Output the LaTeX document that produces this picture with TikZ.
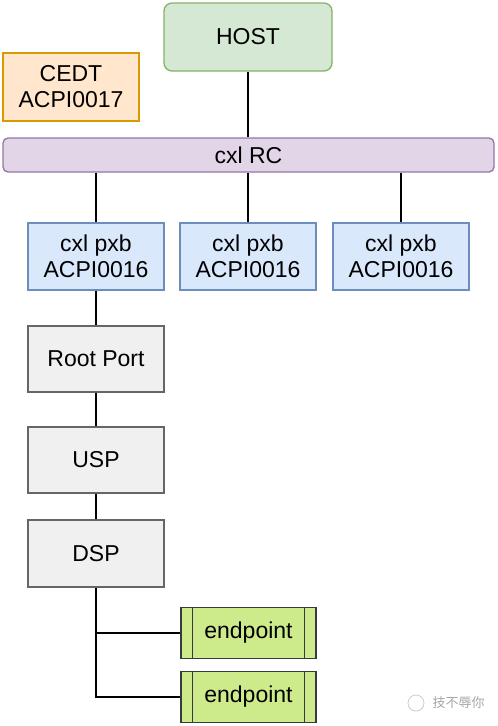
\documentclass[tikz,border=0pt]{standalone}
\usepackage{fontspec}
\setmainfont{Liberation Sans}
\newfontfamily\cjkfont{Noto Sans CJK SC}
\usepackage{tikz}
\usepackage{xcolor}
\usetikzlibrary{calc}
\usetikzlibrary{positioning}

\definecolor{hostfill}{HTML}{D5E8D4}
\definecolor{hostline}{HTML}{82B366}
\definecolor{cedtfill}{HTML}{FFE6CC}
\definecolor{cedtline}{HTML}{D79B00}
\definecolor{rcfill}{HTML}{E1D5E7}
\definecolor{rcline}{HTML}{9673A6}
\definecolor{pxbfill}{HTML}{DAE8FC}
\definecolor{pxbline}{HTML}{6C8EBF}
\definecolor{portfill}{HTML}{F0F0F0}
\definecolor{portline}{HTML}{666666}
\definecolor{epfill}{HTML}{CDEB8B}
\definecolor{epline}{HTML}{36393D}

\tikzset{
  box/.style={draw, line width=1.3pt, align=center, inner sep=0pt,
    font=\fontsize{23}{26}\selectfont},
  hostbox/.style={box, fill=hostfill, draw=hostline, rounded corners=8pt,
    minimum width=168pt, minimum height=68pt},
  cedtbox/.style={box, fill=cedtfill, draw=cedtline,
    minimum width=136pt, minimum height=68pt},
  rcbox/.style={box, fill=rcfill, draw=rcline, rounded corners=5pt,
    minimum width=491pt, minimum height=34pt},
  pxbbox/.style={box, fill=pxbfill, draw=pxbline,
    minimum width=136pt, minimum height=67pt},
  portbox/.style={box, fill=portfill, draw=portline,
    minimum width=136pt, minimum height=66pt},
  epbox/.style={box, fill=epfill, draw=epline,
    minimum width=135pt, minimum height=51pt},
  wire/.style={line width=1.4pt, black}
}

\begin{document}
\begin{tikzpicture}[x=1pt, y=-1pt]
\useasboundingbox (0,0) rectangle (498,726);

%top
\node[hostbox] (host) at (248,37) {HOST};
\node[cedtbox] (cedt) at (71,87) {CEDT\\ACPI0017};
\node[rcbox] (rc) at (248.5,155) {cxl RC};
\draw[wire] (host.south) -- (host.south |- rc.north);

%bridges
\foreach \n/\x in {pxba/96, pxbb/248, pxbc/401} {
  \node[pxbbox] (\n) at (\x,256.5) {cxl pxb\\ACPI0016};
  \draw[wire] (\n.north |- rc.south) -- (\n.north);
}

%switch chain
\node[portbox] (rp) at (96,359) {Root Port};
\node[portbox] (usp) at (96,460) {USP};
\node[portbox, minimum height=67pt] (dsp) at (96,553.5) {DSP};
\draw[wire] (pxba.south) -- (rp.north);
\draw[wire] (rp.south) -- (usp.north);
\draw[wire] (usp.south) -- (dsp.north);

%endpoints
\foreach \n/\y in {epa/633, epb/697} {
  \node[epbox] (\n) at (248.5,\y) {endpoint};
  \draw[line width=1.3pt, epline] ([xshift=12pt]\n.north west) -- ([xshift=12pt]\n.south west);
  \draw[line width=1.3pt, epline] ([xshift=-12pt]\n.north east) -- ([xshift=-12pt]\n.south east);
  \draw[wire] (dsp.south) |- (\n.west);
}

%watermark
\node[circle, draw=gray!40, line width=0.8pt, minimum size=16pt, inner sep=0pt] (wlogo) at (416,703) {};
\node[right=8pt of wlogo, text=gray!70, inner sep=0pt, font=\cjkfont\fontsize{13}{13}\selectfont] (wtext) {技不辱你};
\end{tikzpicture}
\end{document}
